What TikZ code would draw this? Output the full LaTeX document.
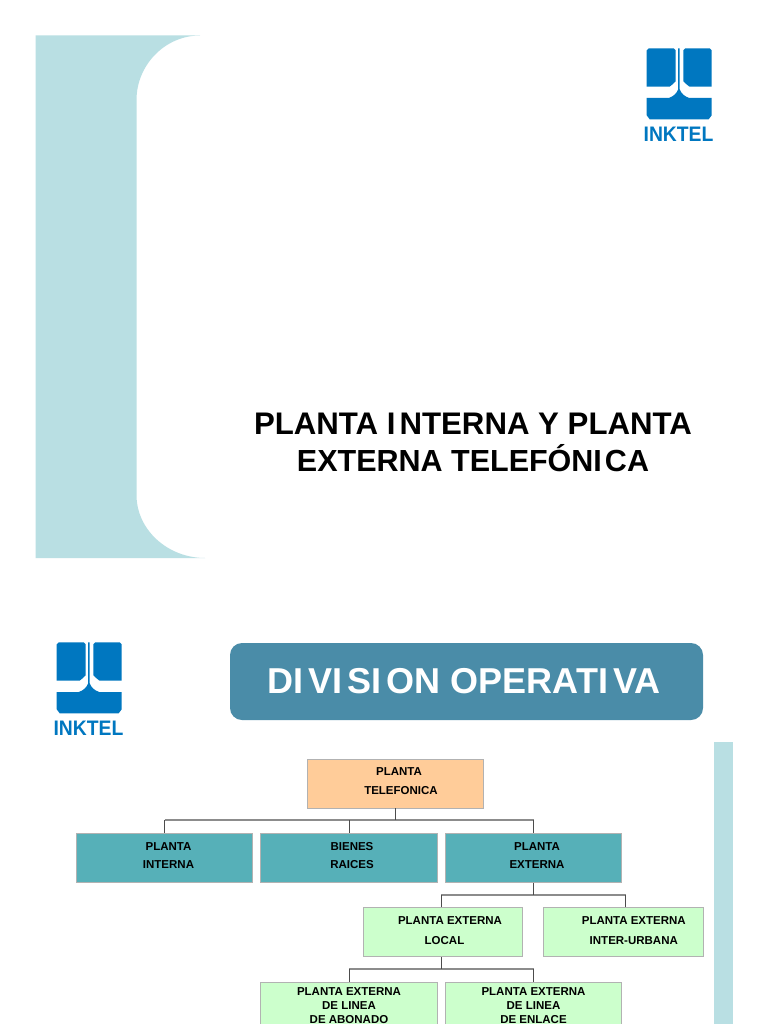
\documentclass[tikz,border=0pt]{standalone}
\usepackage{fontspec}
\setmainfont{Liberation Sans}
\usepackage{tikz}
\usetikzlibrary{calc}
\definecolor{palebar}{HTML}{B9DFE3}
\definecolor{titlebar}{HTML}{4A8CA8}
\definecolor{tealbox}{HTML}{56B0B8}
\definecolor{greenbox}{HTML}{CCFFCC}
\definecolor{peachbox}{HTML}{FFCC99}
\definecolor{logoblue}{HTML}{0077C0}
\def\gapI#1{I\kern#1pt}
\newcommand\fsz[1]{\fontsize{#1}{#1}\selectfont\bfseries}
\def\inktellogo(#1,#2)(#3){
	\begin{scope}[shift={(#1,#2)}]
		\fill[logoblue] (2, 0) -- (27, 0) -- (29, 2) -- (29, 33) .. controls (27, 35) and (25, 37) .. (23, 38.3) -- (0, 38.3) -- (0, 2) -- cycle;
		\fill[logoblue] (38.7, 0) -- (63, 0) -- (65, 2) -- (65, 38.3) -- (42.7, 38.3) .. controls (40.7, 37) and (38.7, 35) .. (36.7, 33) -- (36.7, 2) -- cycle;
		\fill[logoblue] (0, 49.7) -- (22, 49.7) .. controls (27, 48) and (30, 45) .. (31.5, 41) -- (31.5, 0) -- (33, 0) -- (33, 41) .. controls (34.5, 45) and (37.5, 48) .. (42.5, 49.7) -- (65, 49.7) -- (65, 67) -- (62, 71) -- (3, 71) -- (0, 67) -- cycle;
		\node[logoblue, inner sep=0pt, xscale=0.92, font=\fsz{21}] (#3) at (31.8, 85.5) {INKTEL};
	\end{scope}
}
\tikzset{
	box/.style={draw=black!30, line width=0.8pt, inner sep=0pt, align=center, text=black, font=\fsz{11.5}},
	toprow/.style={box, fill=peachbox, minimum width=176pt, minimum height=49pt, text depth=5pt},
	tealrow/.style={box, fill=tealbox, minimum width=176.5pt, minimum height=49pt, text depth=4pt},
	greenrow/.style={box, fill=greenbox, minimum width=159pt, minimum height=49pt, text depth=4pt},
	lowrow/.style={box, fill=greenbox, minimum width=176.5pt, minimum height=49pt, text depth=3pt},
	link/.style={draw=black!70, line width=1pt},
	busline/.style={draw=black!45, line width=1.3pt}
}

\begin{document}
\begin{tikzpicture}[x=1pt, y=-1pt]
	\clip (0, 0) rectangle (768, 1024);
	\fill[white] (0, 0) rectangle (768, 1024);

	\fill[palebar] (35.5, 35.5) -- (200, 35.5) .. controls (165, 35.5) and (136.5, 65) .. (136.5, 100) -- (136.5, 495) .. controls (136.5, 530) and (168, 558) .. (205, 558) -- (35.5, 558) -- cycle;
	\fill[palebar] (714.3, 742) rectangle (732.7, 1024);

	\inktellogo(646.7,48.3)(logoa)
	\inktellogo(56.7,642.3)(logob)

	\node[align=center, inner sep=0pt, font=\fsz{31.2}] (maintitle) at (473, 442.5) {PLANTA \gapI{4}NTERNA Y PLANTA\\[5.8pt]{\fsz{30.5}EXTERNA TELEFÓN\gapI{3}CA}};

	\node[fill=titlebar, rounded corners=12pt, minimum width=473pt, minimum height=77pt, inner sep=0pt, text=white, font=\fsz{36}] (division) at (466.5, 681.5) {D\gapI{5}V\gapI{5}S\gapI{5}ON OPERAT\gapI{5}VA\hspace*{5pt}};

	\node[toprow] (telefonica) at (395, 783.5) {\hspace*{8pt}PLANTA\\[7.5pt]\hspace*{12pt}TELEFONICA};

	\node[tealrow] (interna) at (164.5, 857.8) {\hspace*{8pt}PLANTA\\[6.5pt]\hspace*{8pt}INTERNA};
	\node[tealrow] (bienes) at (349, 857.8) {\hspace*{6pt}BIENES\\[6.5pt]\hspace*{6pt}RAICES};
	\node[tealrow] (externa) at (533.5, 857.8) {\hspace*{7pt}PLANTA\\[6.5pt]\hspace*{7pt}EXTERNA};

	\node[greenrow] (local) at (442.5, 932.3) {\hspace*{15pt}PLANTA EXTERNA\\[8pt]\hspace*{4pt}LOCAL};
	\node[greenrow, minimum width=160pt] (urbana) at (623.3, 932.3) {\hspace*{21pt}PLANTA EXTERNA\\[8pt]\hspace*{21pt}INTER-URBANA};

	\node[lowrow, anchor=north] (abonado) at (349, 981.7) {PLANTA EXTERNA\\[2.5pt]DE LINEA\\[2.5pt]DE ABONADO};
	\node[lowrow, anchor=north] (enlace) at (533.5, 981.7) {PLANTA EXTERNA\\[2.5pt]DE LINEA\\[2.5pt]DE ENLACE};

	\coordinate (busa) at (395, 820);
	\draw[busline] (interna.north |- busa) -- (externa.north |- busa);
	\draw[link] (telefonica.south) -- (busa);
	\draw[link] (interna.north) -- (interna.north |- busa);
	\draw[link] (bienes.north) -- (bienes.north |- busa);
	\draw[link] (externa.north) -- (externa.north |- busa);

	\coordinate (busb) at (533.5, 895);
	\coordinate (localtop) at ([xshift=-1.2pt]local.north);
	\coordinate (urbanatop) at ([xshift=2.4pt]urbana.north);
	\draw[busline] (localtop |- busb) -- (urbanatop |- busb);
	\draw[link] (externa.south) -- (busb);
	\draw[link] (localtop) -- (localtop |- busb);
	\draw[link] (urbanatop) -- (urbanatop |- busb);

	\coordinate (busc) at (441.3, 969);
	\draw[busline] (abonado.north |- busc) -- (enlace.north |- busc);
	\draw[link] ([xshift=-1.2pt]local.south) -- (busc);
	\draw[link] (abonado.north) -- (abonado.north |- busc);
	\draw[link] (enlace.north) -- (enlace.north |- busc);
\end{tikzpicture}
\end{document}
